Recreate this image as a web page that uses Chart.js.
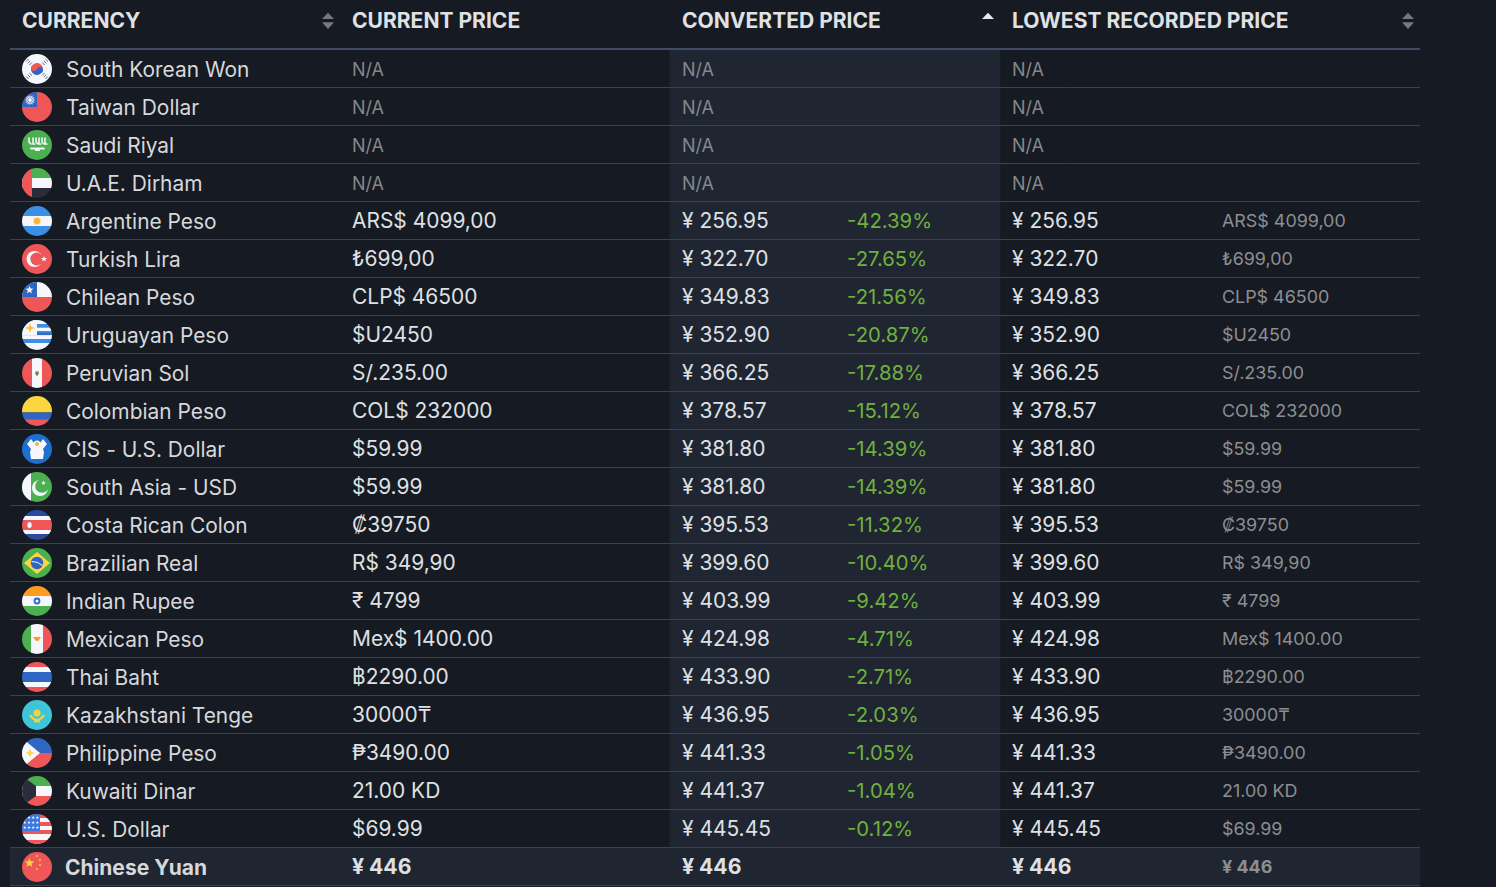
<!DOCTYPE html>
<html><head><meta charset="utf-8">
<style>html,body{margin:0;padding:0;background:#161a22;overflow:hidden}canvas{display:block}</style>
<script src="https://cdn.jsdelivr.net/npm/chart.js@4"></script>
</head><body><canvas id="c" width="1496" height="887" style="width:1496px;height:887px"></canvas>
<script>
const headers = ["CURRENCY","CURRENT PRICE","CONVERTED PRICE","LOWEST RECORDED PRICE"];
const currencies = ["South Korean Won","Taiwan Dollar","Saudi Riyal","U.A.E. Dirham","Argentine Peso","Turkish Lira","Chilean Peso","Uruguayan Peso","Peruvian Sol","Colombian Peso","CIS - U.S. Dollar","South Asia - USD","Costa Rican Colon","Brazilian Real","Indian Rupee","Mexican Peso","Thai Baht","Kazakhstani Tenge","Philippine Peso","Kuwaiti Dinar","U.S. Dollar","Chinese Yuan"];
const currentPrices = [null,null,null,null,"ARS$ 4099,00","₺699,00","CLP$ 46500","$U2450","S/.235.00","COL$ 232000","$59.99","$59.99","₡39750","R$ 349,90","₹ 4799","Mex$ 1400.00","฿2290.00","30000₸","₱3490.00","21.00 KD","$69.99","¥ 446"];
const convertedPrices = [null,null,null,null,256.95,322.70,349.83,352.90,366.25,378.57,381.80,381.80,395.53,399.60,403.99,424.98,433.90,436.95,441.33,441.37,445.45,446];
const discounts = [null,null,null,null,-42.39,-27.65,-21.56,-20.87,-17.88,-15.12,-14.39,-14.39,-11.32,-10.40,-9.42,-4.71,-2.71,-2.03,-1.05,-1.04,-0.12,null];
const lowestPrices = [null,null,null,null,256.95,322.70,349.83,352.90,366.25,378.57,381.80,381.80,395.53,399.60,403.99,424.98,433.90,436.95,441.33,441.37,445.45,446];

// --- layout on the x scale (one unit = one pixel) and styles
const X = {left:10,right:1420,icon:37,name:66,cur:352,conv:682,disc:847,low:1012,orig:1222,bandL:670,bandR:1000};
const BG='#161a22',BAND='#1f2632',LINE='#384254',HEADLINE='#3f4c63';
const FF='Inter, "Noto Sans", sans-serif';
const HEADER_ROW='';
const rowLabels=[HEADER_ROW,...currencies];
const last=currencies.length-1;
const fmtYen=v=>'¥ '+(Number.isInteger(v)?String(v):v.toFixed(2));
const fmtPct=v=>v.toFixed(2)+'%';

// --- flags: 30px circular icons
const C={r:'#ef5657',w:'#f5f7fc',b:'#2f66c4',g:'#4caf50',k:'#2b2d3a',y:'#fbd63e',o:'#ff9b1f',s:'#3b8fe6',t:'#3fc5da'};
function star(c,x,y,r,col,n=5,inner=0.42,rot=-Math.PI/2){c.fillStyle=col;c.beginPath();for(let i=0;i<n*2;i++){const a=rot+i*Math.PI/n,q=i%2?r*inner:r;c.lineTo(x+Math.cos(a)*q,y+Math.sin(a)*q);}c.closePath();c.fill();}
function R(c,col,x,y,w,h){c.fillStyle=col;c.fillRect(x,y,w,h);}
function disc(c,x,y,r,col){c.fillStyle=col;c.beginPath();c.arc(x,y,r,0,Math.PI*2);c.fill();}
function H(c,cols,ys){cols.forEach((col,i)=>R(c,col,0,ys[i],30,ys[i+1]-ys[i]));}
function V(c,cols,xs){cols.forEach((col,i)=>R(c,col,xs[i],0,xs[i+1]-xs[i],30));}
function poly(c,col,pts){c.fillStyle=col;c.beginPath();pts.forEach(p=>c.lineTo(p[0],p[1]));c.closePath();c.fill();}
const flags={
 "South Korean Won":c=>{R(c,C.w,0,0,30,30);
   c.fillStyle=C.r;c.beginPath();c.arc(15,15,6,Math.PI*1.1,Math.PI*2.1);c.fill();
   c.fillStyle=C.b;c.beginPath();c.arc(15,15,6,Math.PI*0.1,Math.PI*1.1);c.fill();disc(c,12,14,3,C.r);disc(c,18,16,3,C.b);
   c.strokeStyle='#555866';c.lineWidth=0.9;[[7,8,1],[23,8,-1],[7,22,-1],[23,22,1]].forEach(([x,y,s])=>{[-1.7,0,1.7].forEach(d=>{c.beginPath();c.moveTo(x+d-1.3*s,y+d*s+1.3);c.lineTo(x+d+1.3*s,y+d*s-1.3);c.stroke();});});},
 "Taiwan Dollar":c=>{R(c,C.r,0,0,30,30);R(c,C.b,0,0,15,15);star(c,8,8,5.5,C.w,12,0.55);disc(c,8,8,2.6,C.b);disc(c,8,8,2,C.w);},
 "Saudi Riyal":c=>{R(c,C.g,0,0,30,30);c.strokeStyle=C.w;c.lineWidth=1.6;c.lineCap='round';[7,11,14,17,20,23].forEach((x,i)=>{c.beginPath();c.moveTo(x,8);c.lineTo(x,i%2?14:12);c.lineTo(x+2,14);c.stroke();});c.lineWidth=1.8;c.beginPath();c.moveTo(9,18.5);c.lineTo(22,18.5);c.stroke();R(c,C.w,13,18,5,3);},
 "U.A.E. Dirham":c=>{H(c,[C.g,C.w,C.k],[0,10,20,30]);R(c,C.r,0,0,10,30);},
 "Argentine Peso":c=>{H(c,[C.s,C.w,C.s],[0,10,20,30]);star(c,15,15,4.6,'#f8b62c',10,0.6);},
 "Turkish Lira":c=>{R(c,C.r,0,0,30,30);disc(c,12.5,15,8,C.w);disc(c,14.7,15,6.4,C.r);star(c,22,15,3.2,C.w);},
 "Chilean Peso":c=>{H(c,[C.w,C.r],[0,15,30]);R(c,C.b,0,0,15,15);star(c,7.5,8,4.2,C.w);},
 "Uruguayan Peso":c=>{H(c,[C.w,C.s,C.w,C.s,C.w,C.s,C.w],[0,4,7.5,11,15,19,23,30]);R(c,'#2f6fc8',0,12.5,30,2.6);R(c,C.w,0,0,15,15);star(c,8,8,5,'#fbc02d',4,0.35);},
 "Peruvian Sol":c=>{V(c,[C.r,C.w,C.r],[0,10,20,30]);disc(c,15,15,2,'#6aa84f');R(c,'#c75050',14,15,2,2.5);},
 "Colombian Peso":c=>{H(c,[C.y,C.b,C.r],[0,16.5,23.2,30]);},
 "CIS - U.S. Dollar":c=>{R(c,'#1f6fd1',0,0,30,30);poly(c,C.w,[[9,15],[5,10],[9,5],[12,9],[12,12],[18,12],[18,9],[21,5],[25,10],[21,15],[22,18],[21,25],[9,25],[8,18]]);disc(c,15,10,3.5,C.w);disc(c,15,10,2,'#f2b632');},
 "South Asia - USD":c=>{R(c,C.g,0,0,30,30);R(c,C.w,0,0,9,30);disc(c,18,16,8,C.w);disc(c,20,14,6.8,C.g);star(c,21.5,11,2.5,C.w);},
 "Costa Rican Colon":c=>{H(c,['#2b4a9b',C.w,C.r,C.w,'#2b4a9b'],[0,6,10,20,24,30]);c.fillStyle=C.w;c.beginPath();c.ellipse(7.5,15,2.2,3,0,0,Math.PI*2);c.fill();},
 "Brazilian Real":c=>{R(c,C.g,0,0,30,30);poly(c,C.y,[[15,4],[28,15],[15,26],[2,15]]);disc(c,15,15,6.2,'#2f66c4');c.strokeStyle=C.w;c.lineWidth=1;c.beginPath();c.moveTo(9.5,13.5);c.quadraticCurveTo(15,13,20.5,17.5);c.stroke();},
 "Indian Rupee":c=>{H(c,[C.o,C.w,C.g],[0,10,20,30]);disc(c,15,15,3.4,'#2f66c4');disc(c,15,15,1.6,C.w);},
 "Mexican Peso":c=>{V(c,[C.g,C.w,C.r],[0,9,21,30]);poly(c,C.o,[[11,13],[19,13],[17,16],[15.5,17],[14.5,17],[13,16]]);},
 "Thai Baht":c=>{H(c,[C.r,C.w,C.b,C.w,C.r],[0,5,10,20,25,30]);},
 "Kazakhstani Tenge":c=>{R(c,C.t,0,0,30,30);disc(c,15,13,3.6,'#f6d13b');c.strokeStyle='#f6d13b';c.lineWidth=2.2;c.beginPath();c.moveTo(8,15);c.quadraticCurveTo(15,25,22,15);c.stroke();R(c,'#f6d13b',12,21,6,1.4);},
 "Philippine Peso":c=>{H(c,[C.b,C.r],[0,15,30]);poly(c,C.w,[[0,0],[18,15],[0,30]]);star(c,8,15,4.6,C.y,4,0.4);},
 "Kuwaiti Dinar":c=>{H(c,[C.g,C.w,C.r],[0,10,20,30]);poly(c,C.k,[[0,0],[14,10],[14,20],[0,30]]);},
 "U.S. Dollar":c=>{H(c,[C.r,C.w,C.r,C.w,C.r,C.w,C.r,C.w],[0,4,8,12,16,20,24,27,30]);R(c,C.w,0,20,30,6);R(c,C.r,0,26,30,4);R(c,'#3b78e0',0,0,18,17);for(let j=0;j<3;j++)for(let i=0;i<4;i++)star(c,2.8+i*4.2,3.5+j*5,1.7,C.w);},
 "Chinese Yuan":c=>{R(c,C.r,0,0,30,30);star(c,7.5,11,5,C.y);[[15,4],[18,8],[18,13],[15,17]].forEach(p=>star(c,p[0],p[1],1.5,C.y));}
};
function flagCanvas(name){const el=document.createElement('canvas');el.width=30;el.height=31;const c=el.getContext('2d');c.translate(0,1);c.beginPath();c.arc(15,15,15,0,Math.PI*2);c.clip();flags[name](c);return el;}

// --- table text & arrows drawn with the chart's scales
function T(c,s,x,y,font,col){c.font=font;c.fillStyle=col;c.fillText(s,x,y);}
function tri(c,cx,y0,y1,col,hw=6){c.fillStyle=col;c.beginPath();c.moveTo(cx,y0);c.lineTo(cx+hw,y1);c.lineTo(cx-hw,y1);c.closePath();c.fill();}
const tablePlugin={id:'table',
 beforeDraw(ch){const c=ch.ctx;c.save();c.fillStyle=BG;c.fillRect(0,0,ch.width,ch.height);c.restore();},
 afterDraw(ch){const c=ch.ctx,x=ch.scales.x,y=ch.scales.y;c.save();c.textBaseline='alphabetic';c.textAlign='left';
  const px=v=>x.getPixelForValue(v);
  c.fillStyle=HEADLINE;c.fillRect(px(X.left),48,px(X.right)-px(X.left),2);
  const HF='700 21.05px '+FF,HC='#dfe1e5';
  const hy=28;
  [X.left+12,X.cur,X.conv,X.low].forEach((xx,i)=>T(c,headers[i],px(xx),hy,HF,HC));
  [328,1408].forEach(a=>{tri(c,px(a),12.7,19,'#77797e');tri(c,px(a),29,22.3,'#77797e');});
  tri(c,px(988),12.7,19,'#e8e9ec');
  currencies.forEach((n,i)=>{const cy=y.getPixelForValue(i+1);const isLast=i===last;const bl=cy+7.5;
    const w=isLast?'700 ':'400 ';
    const big=isLast?'21.15px ':'20.95px ';
    T(c,n,px(isLast?X.name-1:X.name),cy+8,w+(isLast?'21px ':'20.9px ')+FF,'#d7d8db');
    if(currentPrices[i]===null){
      [X.cur,X.conv,X.low].forEach(k=>T(c,'N/A',px(k),cy+7.5,'400 18px '+FF,'#85878b'));
      return;
    }
    T(c,currentPrices[i],px(X.cur),bl-0.5,w+big+FF,'#dfe0e3');
    T(c,fmtYen(convertedPrices[i]),px(X.conv),bl-0.5,w+big+FF,'#dfe0e3');
    if(discounts[i]!==null)T(c,fmtPct(discounts[i]),px(X.disc),bl-0.5,'400 20.3px '+FF,'#6fb13c');
    T(c,fmtYen(lowestPrices[i]),px(X.low),bl-0.5,w+big+FF,'#dfe0e3');
    T(c,currentPrices[i],px(X.orig),bl-1,w+'17.9px '+FF,'#8c8e92');
  });
  c.restore();}};

const canvas=document.getElementById('c');
canvas.getContext('2d',{alpha:false});
new Chart(canvas,{
 type:'bar',
 data:{labels:rowLabels,datasets:[
  {type:'bar',indexAxis:'y',xAxisID:'x',yAxisID:'y',order:2,data:rowLabels.map((l,i)=>i===0?null:(i-1===last?[X.left,X.right]:[X.bandL,X.bandR])),backgroundColor:BAND,borderWidth:0,barPercentage:1,categoryPercentage:1},
  {type:'scatter',xAxisID:'x',yAxisID:'y',order:1,data:currencies.map(n=>({x:X.icon,y:n})),pointStyle:currencies.map(flagCanvas),pointRadius:15,pointBorderWidth:0,clip:false}
 ]},
 options:{responsive:false,animation:false,devicePixelRatio:1,
  layout:{autoPadding:false,padding:{left:10,right:76,top:11.5,bottom:1.5}},
  plugins:{legend:{display:false},tooltip:{enabled:false}},events:[],
  scales:{
   x:{type:'linear',min:X.left,max:X.right,display:false,offset:false},
   y:{type:'category',labels:rowLabels,offset:true,border:{display:false},ticks:{display:false},
      grid:{offset:true,z:1,drawTicks:false,tickLength:0,
        color:ctx=>ctx.index<=1?'rgba(0,0,0,0)':LINE,
        lineWidth:1}}
  }},
 plugins:[tablePlugin]
});
</script></body></html>
